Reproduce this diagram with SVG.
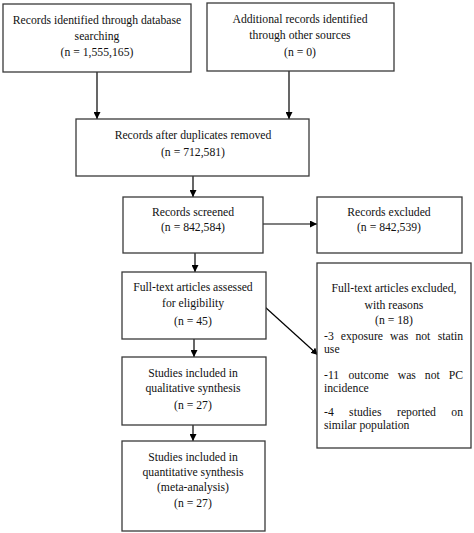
<svg xmlns="http://www.w3.org/2000/svg" width="474" height="533" viewBox="0 0 474 533">
<defs>
<marker id="ah" viewBox="0 0 10 10" refX="10" refY="5" markerWidth="7" markerHeight="7" markerUnits="userSpaceOnUse" orient="auto">
<path d="M0,0 L10,5 L0,10 z" fill="#000"/>
</marker>
<style>
.box{fill:#fff;stroke:#3a3a3a;stroke-width:1.3}
.t{font-family:"Liberation Serif","Times New Roman",serif;font-size:11.7px;fill:#111;text-anchor:middle}
.l{font-family:"Liberation Serif","Times New Roman",serif;font-size:11.7px;fill:#111}
.e{text-anchor:end}
.c{stroke:#000;stroke-width:1.2;fill:none;marker-end:url(#ah)}
</style>
</defs>
<rect width="474" height="533" fill="#fff"/>
<g id="connectors">
<line class="c" x1="97" y1="72" x2="97" y2="119"/>
<line class="c" x1="289" y1="71" x2="289" y2="119"/>
<line class="c" x1="193" y1="176" x2="193" y2="197"/>
<line class="c" x1="263" y1="224" x2="317" y2="224"/>
<line class="c" x1="195" y1="253" x2="195" y2="272"/>
<line class="c" x1="265" y1="307" x2="318" y2="355"/>
<line class="c" x1="194" y1="339" x2="194" y2="357"/>
<line class="c" x1="193" y1="425" x2="193" y2="441"/>
</g>
<g id="n1">
<rect class="box" x="3" y="4" width="188" height="68"/>
<text class="t" x="97" y="24">Records identified through database</text>
<text class="t" x="97" y="40">searching</text>
<text class="t" x="97" y="56">(n = 1,555,165)</text>
</g>
<g id="n2">
<rect class="box" x="207" y="3" width="187" height="68"/>
<text class="t" x="300" y="23">Additional records identified</text>
<text class="t" x="300" y="39">through other sources</text>
<text class="t" x="300" y="56">(n = 0)</text>
</g>
<g id="n3">
<rect class="box" x="76" y="119" width="233" height="57"/>
<text class="t" x="193" y="139">Records after duplicates removed</text>
<text class="t" x="193" y="156">(n = 712,581)</text>
</g>
<g id="n4">
<rect class="box" x="123" y="197" width="140" height="56"/>
<text class="t" x="193" y="216">Records screened</text>
<text class="t" x="193" y="231">(n = 842,584)</text>
</g>
<g id="n5">
<rect class="box" x="317" y="197" width="145" height="56"/>
<text class="t" x="389" y="216">Records excluded</text>
<text class="t" x="389" y="231">(n = 842,539)</text>
</g>
<g id="n6">
<rect class="box" x="122" y="272" width="144" height="67"/>
<text class="t" x="193" y="291">Full-text articles assessed</text>
<text class="t" x="193" y="307">for eligibility</text>
<text class="t" x="193" y="325">(n = 45)</text>
</g>
<g id="n7">
<rect class="box" x="317" y="263" width="154" height="185"/>
<text class="t" x="394" y="292">Full-text articles excluded,</text>
<text class="t" x="394" y="309">with reasons</text>
<text class="t" x="394" y="324">(n = 18)</text>
<text class="l" y="340"><tspan x="324">-3</tspan><tspan x="340.8">exposure</tspan><tspan x="390.1">was</tspan><tspan x="415.4">not</tspan></text>
<text class="l e" x="463" y="340">statin</text>
<text class="l" x="324" y="353">use</text>
<text class="l" y="379"><tspan x="324">-11</tspan><tspan x="348.5">outcome</tspan><tspan x="397.7">was</tspan><tspan x="424.8">not</tspan></text>
<text class="l e" x="463" y="379">PC</text>
<text class="l" x="324" y="392">incidence</text>
<text class="l" y="416"><tspan x="324">-4</tspan><tspan x="349.1">studies</tspan><tspan x="397">reported</tspan></text>
<text class="l e" x="463" y="416">on</text>
<text class="l" x="324" y="429">similar population</text>
</g>
<g id="n8">
<rect class="box" x="122" y="357" width="144" height="68"/>
<text class="t" x="193" y="377">Studies included in</text>
<text class="t" x="193" y="392">qualitative synthesis</text>
<text class="t" x="193" y="409">(n = 27)</text>
</g>
<g id="n9">
<rect class="box" x="122" y="441" width="143" height="90"/>
<text class="t" x="193" y="461">Studies included in</text>
<text class="t" x="193" y="476">quantitative synthesis</text>
<text class="t" x="193" y="491">(meta-analysis)</text>
<text class="t" x="193" y="507">(n = 27)</text>
</g>
</svg>
